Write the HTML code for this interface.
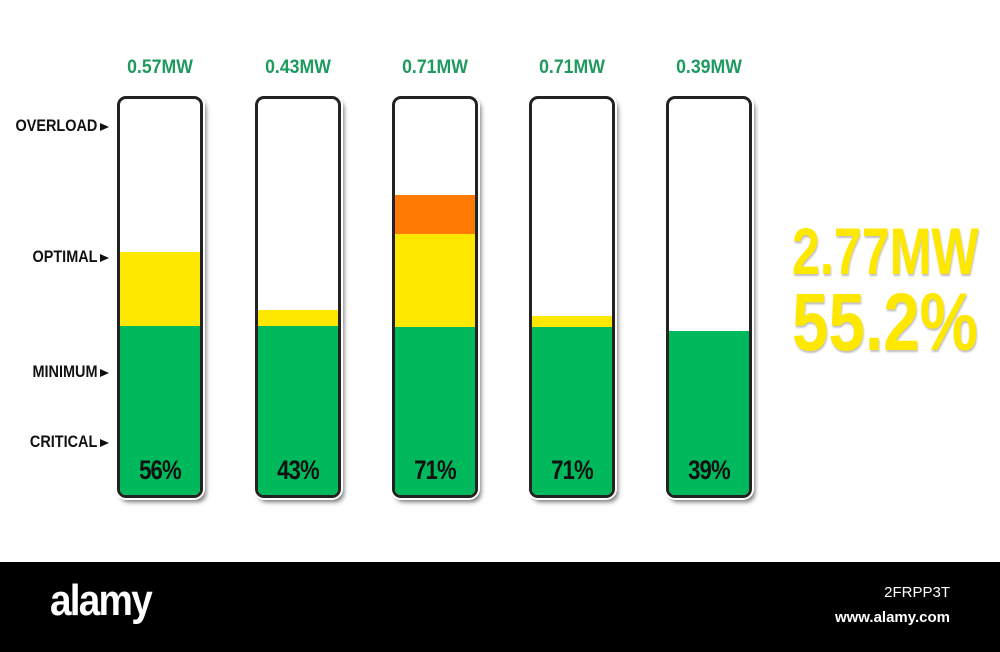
<!DOCTYPE html>
<html><head><meta charset="utf-8"><style>
body{margin:0;width:1000px;height:652px;background:#fff;position:relative;overflow:hidden;font-family:"Liberation Sans",sans-serif;font-weight:bold}
.bar{position:absolute;top:96px;width:80px;height:396px;border:3px solid #222;border-radius:9px;background:#fff;overflow:hidden;box-shadow:0 0 0 2px #fff,3px 4px 5px rgba(0,0,0,.55)}
.f{position:absolute;left:0;right:0;bottom:0}
.g{background:#00b95c}.y{background:#ffe800}.o{background:#ff7a00}
.pct{position:absolute;width:86px;text-align:center;top:455px;font-size:27px;color:#111;letter-spacing:-1px;transform:scaleX(.82)}
.mw{position:absolute;width:86px;text-align:center;top:57px;font-size:19px;color:#1e9a5e;transform:scaleX(.93)}
.lab{position:absolute;right:903px;font-size:17px;color:#111;white-space:nowrap;transform:scaleX(.85);transform-origin:right}
.arr{position:absolute;left:100px;width:0;height:0;border-left:9px solid #111;border-top:4px solid transparent;border-bottom:4px solid transparent}
.big{position:absolute;left:792px;color:#ffe800;white-space:nowrap;text-shadow:1px 2px 2px rgba(0,0,0,.25);transform-origin:left top}
</style></head><body>
<div class="mw" style="left:117px">0.57MW</div>
<div class="mw" style="left:255px">0.43MW</div>
<div class="mw" style="left:392px">0.71MW</div>
<div class="mw" style="left:529px">0.71MW</div>
<div class="mw" style="left:666px">0.39MW</div>

<div class="lab" style="top:116px">OVERLOAD</div><div class="arr" style="top:123px"></div>
<div class="lab" style="top:247px">OPTIMAL</div><div class="arr" style="top:254px"></div>
<div class="lab" style="top:362px">MINIMUM</div><div class="arr" style="top:369px"></div>
<div class="lab" style="top:432px">CRITICAL</div><div class="arr" style="top:439px"></div>

<div class="bar" style="left:117px"><div class="f y" style="height:243px"></div><div class="f g" style="height:169px"></div></div>
<div class="bar" style="left:255px"><div class="f y" style="height:185px"></div><div class="f g" style="height:169px"></div></div>
<div class="bar" style="left:392px"><div class="f o" style="height:300px"></div><div class="f y" style="height:261px"></div><div class="f g" style="height:168px"></div></div>
<div class="bar" style="left:529px"><div class="f y" style="height:179px"></div><div class="f g" style="height:168px"></div></div>
<div class="bar" style="left:666px"><div class="f g" style="height:164px"></div></div>

<div class="pct" style="left:117px">56%</div>
<div class="pct" style="left:255px">43%</div>
<div class="pct" style="left:392px">71%</div>
<div class="pct" style="left:529px">71%</div>
<div class="pct" style="left:666px">39%</div>

<div class="big" style="top:213px;font-size:66px;transform:scaleX(.76)">2.77MW</div>
<div class="big" style="top:276px;font-size:82px;transform:scaleX(.8)">55.2%</div>

<div style="position:absolute;left:0;top:562px;width:1000px;height:90px;background:#000"></div>
<div style="position:absolute;left:50px;top:576px;color:#fff;font-size:44px;letter-spacing:-2px;transform:scaleX(.88);transform-origin:left">alamy</div>
<div style="position:absolute;right:50px;top:584px;color:#fff;font-weight:normal;font-size:15px">2FRPP3T</div>
<div style="position:absolute;right:50px;top:609px;color:#fff;font-size:15px">www.alamy.com</div>
</body></html>
